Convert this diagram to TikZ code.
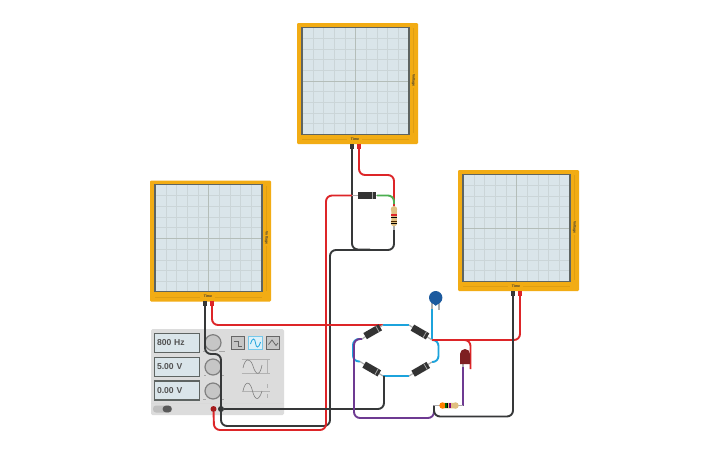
\documentclass[tikz,border=0pt]{standalone}
\usepackage{fontspec}
\setmainfont{Liberation Sans}
\definecolor{orng}{HTML}{F2AC14}
\definecolor{scrn}{HTML}{DAE5EA}
\definecolor{scrb}{HTML}{5E6462}
\definecolor{grd}{HTML}{CBD5D8}
\definecolor{grdm}{HTML}{B4BDB9}
\definecolor{wred}{HTML}{DD2528}
\definecolor{wblk}{HTML}{363839}
\definecolor{wblu}{HTML}{1CA3DC}
\definecolor{wpur}{HTML}{6E3A92}
\definecolor{wgrn}{HTML}{4CAF50}
\definecolor{panel}{HTML}{DCDCDC}
\definecolor{led}{HTML}{7E2022}
\definecolor{capb}{HTML}{1C5A9E}
\definecolor{res}{HTML}{E0BF80}
\tikzset{
  x=1pt,y=-1pt,
  wire/.style={line width=1.9pt,rounded corners=6pt,line join=round},
  redw/.style={wire,draw=wred},
  blkw/.style={wire,draw=wblk},
  bluw/.style={wire,draw=wblu},
  purw/.style={wire,draw=wpur},
  grnw/.style={wire,draw=wgrn},
  lead/.style={line width=1.2pt,draw=gray!65},
  disp/.style={draw=scrb,line width=1.3pt,fill=scrn,minimum width=45pt,minimum height=19pt,inner sep=0pt,
     font=\bfseries\fontsize{8.6}{9}\selectfont,text=black!68,text width=40pt,align=left},
  knob/.style={circle,draw=gray,line width=1.2pt,fill=gray!45,minimum size=16pt,inner sep=0pt},
  wbtn/.style={draw=gray!80!black,line width=.6pt,fill=gray!45,minimum size=13.5pt,inner sep=0pt},
  dio/.style={fill=black!80,draw=none,minimum width=17.5pt,minimum height=7pt,inner sep=0pt},
  band/.style={draw=gray!70,line width=.8pt},
  tick/.style={draw=gray!70,line width=.4pt},
  tiny/.style={font=\bfseries\fontsize{3.5}{4}\selectfont,text=black!80,inner sep=0pt},
}
\newcommand{\scopebox}[3]{% name, x, y of top-left
  \begin{scope}[shift={(#2,#3)}]
    \node[fill=orng,rounded corners=1.2pt,minimum width=121pt,minimum height=121pt,inner sep=0pt] (#1) at (60.5,60.5) {};
    \fill[scrn] (5,4.3) rectangle (112,111.3);
    \foreach \g in {10.7,21.4,32.1,42.8,53.5,64.2,74.9,85.6,96.3}{
      \draw[grd,line width=.35pt] (5+\g,4.3)--(5+\g,111.3);
      \draw[grd,line width=.35pt] (5,4.3+\g)--(112,4.3+\g);}
    \draw[grdm,line width=.6pt] (58.5,4.3)--(58.5,111.3);
    \draw[grdm,line width=.6pt] (5,57.8)--(112,57.8);
    \draw[scrb,line width=1.1pt] (5,4.3) rectangle (112,111.3);
    \draw[orng!92!black,line width=.3pt] (5,116.5)--(50,116.5) (65,116.5)--(112,116.5);
    \draw[orng!92!black,line width=.3pt] (116.5,5)--(116.5,50) (116.5,65)--(116.5,110);
    \node[tiny] (#1t) at (58,116.2) {Time};
    \node[tiny,rotate=-90] (#1v) at (116.5,57.5) {Voltage};
    \fill[wblk] (53.2,120.5) rectangle (56.8,125.5);
    \fill[wred] (60.2,120.5) rectangle (63.8,125.5);
    \coordinate (#1k) at (55,124);
    \coordinate (#1r) at (62,124);
  \end{scope}}
\begin{document}
\begin{tikzpicture}
\useasboundingbox (0,0) rectangle (725,453);
\fill[white] (0,0) rectangle (725,453);
% scopes
\scopebox{sa}{297}{23}
\scopebox{sb}{150}{180.5}
\scopebox{sc}{458}{170}
% function generator
\node[fill=panel,rounded corners=1.5pt,minimum width=133pt,minimum height=86pt,inner sep=0pt] (gen) at (217.5,372) {};
\draw[gray!30,line width=.4pt] (151,403)--(284,403);
\node[disp] (d1) at (177,343) {800 Hz};
\node[disp] (d2) at (177,367) {5.00 V};
\node[disp] (d3) at (177,390.5) {0.00 V};
\node[knob] (k1) at (213,342.7) {};
\node[knob] (k2) at (213,367) {};
\node[knob] (k3) at (213,391) {};
\draw[tick] (203,351)--(207,351) (219,351)--(224.5,351);
\draw[tick] (204,375)--(205.5,375) (222,375)--(224,375);
\draw[tick] (203,399)--(206,399) (222,399)--(224,399);
\node[wbtn] (b1) at (237.8,343) {};
\node[wbtn,fill=white!85!wblu,draw=wblu!60] (b2) at (255.5,343) {};
\node[wbtn] (b3) at (273,343) {};
\draw[black!60,line width=.8pt] (233.5,341)--(238,341)--(238,346.5)--(242,346.5);
\draw[wblu,line width=.8pt] (250.5,344) .. controls (252.5,337) and (255,338) .. (255.5,343) .. controls (256,348) and (258.5,349) .. (260.5,342);
\draw[black!60,line width=.8pt] (268.5,344.5)--(272,340)--(276,345.5)--(278,343);
\draw[gray!60,line width=.5pt] (241.5,359.5)--(269.5,359.5) (241.5,373.5)--(269.5,373.5) (267.5,360)--(267.5,373);
\draw[gray,line width=.6pt] (243,368) .. controls (245,358) and (250,357) .. (253,366) .. controls (256,376) and (260,376) .. (262,365);
\draw[gray!60,line width=.5pt] (241.5,391)--(270,391) (267.5,384)--(267.5,388) (267.5,394)--(267.5,398);
\draw[gray,line width=.6pt] (243,391) .. controls (245,381) and (250,380) .. (252.5,391) .. controls (255,401) and (259,401) .. (262,391);
\fill[gray!50,rounded corners=3pt] (153,405.5) rectangle (172,412.5);
\fill[black!65,rounded corners=3pt] (162.7,405.7) rectangle (171.7,412.3);
\node[circle,fill=wred!75!black,minimum size=6pt,inner sep=0pt] (tr) at (213.5,409) {};
\node[circle,fill=wblk,minimum size=6pt,inner sep=0pt] (tk) at (221,409) {};
% component anchors
\coordinate (dal) at (352,195.5);
\coordinate (dar) at (377,195.5);
\coordinate (rat) at (394,206);
\coordinate (rab) at (394,230);
\coordinate (tl) at (383,325);
\coordinate (tr2) at (409,325);
\coordinate (ml) at (362,339);
\coordinate (mr) at (432,340);
\coordinate (ll) at (360,361.5);
\coordinate (lr) at (432,362);
\coordinate (bl) at (383,376);
\coordinate (br) at (409,376);
\coordinate (capl) at (432,309);
\coordinate (ledc) at (470.5,369);
\coordinate (leda) at (463,367);
\coordinate (rbl) at (434,405.5);
\coordinate (rbr) at (463,405.5);
% wires
\draw[blkw] (sbk) -- (205,354) -- (221,354) -- (221,426) -- (330,426) -- (330,250) -- (394,250) -- (rab);
\draw[blkw] (sak) -- (352,249.5) -- (370,249.5);
\draw[redw] (sar) -- (359,175) -- (394,175) -- (rat);
\draw[grnw] (dar) -- (394,195.5) -- (394,204);
\draw[redw] (dal) -- (326,195.5) -- (326,430) -- (214,430) -- (tr);
\draw[redw] (sbr) -- (212,325) -- (tl);
\draw[bluw] (tl) -- (tr2);
\draw[bluw] (bl) -- (br);
\draw[bluw] (capl) -- (mr);
\draw[bluw] (mr) -- (438.5,340) -- (438.5,362) -- (lr);
\draw[bluw] (ml) -- (353,339) -- (353,361.5) -- (ll);
\draw[blkw] (tk) -- (384,409) -- (384,376);
\draw[purw] (ml) -- (354,339) -- (354,418) -- (434,418) -- (rbl);
\draw[purw] (rbr) -- (463,405.5) -- (leda);
\draw[redw] (mr) -- (470.5,340) -- (ledc);
\draw[redw] (mr) -- (520,340) -- (scr);
\draw[blkw] (sck) -- (513,416.5) -- (434,416.5) -- (rbl);
% top diode
\draw[lead] (dal)--(358,195.5) (376,195.5)--(dar);
\node[dio,minimum width=18pt] (da) at (367,195.5) {};
\draw[band] (372,192)--(372,199);
% top resistor
\draw[lead] (rat)--(rab);
\node[fill=res,rounded corners=2pt,minimum width=5.5pt,minimum height=19pt,inner sep=0pt] (ra) at (394,216.2) {};
\fill[res] (394,209.3) circle (3.2pt) (394,223) circle (3.2pt);
\fill[wred] (391.2,213.5) rectangle (396.8,215.7);
\fill[black] (391.2,216.7) rectangle (396.8,218.2);
\fill[black!70!orange] (391.2,220.5) rectangle (396.8,222);
\fill[black] (391.2,222.8) rectangle (396.8,224.3);
% bridge diodes
\draw[lead] (ml)--(tl) (tr2)--(mr) (ll)--(bl) (br)--(lr);
\node[dio,rotate=30] (d4) at (372.7,331.7) {};
\node[dio,rotate=-30] (d5) at (420,332) {};
\node[dio,rotate=-30] (d6) at (371.7,369) {};
\node[dio,rotate=30] (d7) at (420.7,369.3) {};
\draw[band] (375.7,326)--(379.2,332);
\draw[band] (426.5,331.7)--(423,337.7);
\draw[band] (378.2,368.7)--(374.8,374.7);
\draw[band] (423.8,363.6)--(427.3,369.6);
% capacitor
\draw[lead] (capl)--(432,303) (439,309.5)--(439,303);
\node[circle,fill=capb,minimum size=13.4pt,inner sep=0pt] (cap) at (435.7,297.7) {};
\fill[capb] (430.5,301.5) -- (435.7,305.8) -- (441,301.5) -- cycle;
% LED
\draw[lead] (leda)--(463,360);
\fill[led] (460,364) -- (460,354) arc[start angle=180,end angle=0,radius=5pt] -- (470,364) -- cycle;
% lower resistor
\draw[lead] (rbl)--(rbr);
\node[fill=res,rounded corners=2pt,minimum width=18pt,minimum height=5.5pt,inner sep=0pt] (rb) at (449,405.5) {};
\fill[orange] (442.5,405.5) circle (3.2pt);
\fill[res] (455.5,405.5) circle (3.2pt);
\fill[black!60!green] (445,402.7) rectangle (446.8,408.3);
\fill[black] (447.3,402.7) rectangle (448.4,408.3);
\fill[violet] (449.2,402.7) rectangle (451.2,408.3);
\end{tikzpicture}
\end{document}
